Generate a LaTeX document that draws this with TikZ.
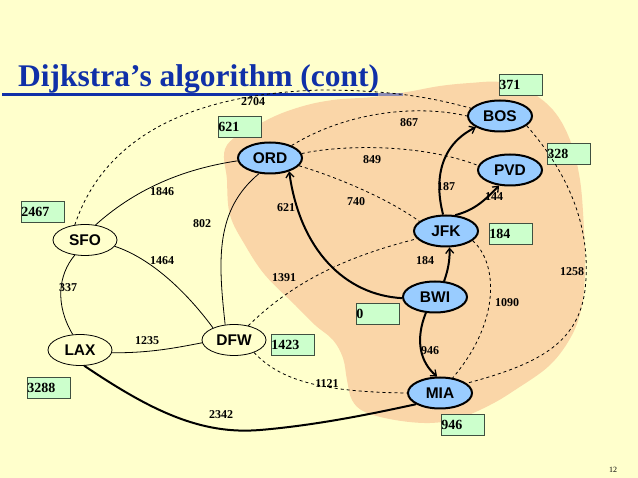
\documentclass[tikz,border=0pt]{standalone}
\usepackage{fontspec}
\setmainfont{Liberation Serif}
\newfontfamily\cityfont{Liberation Sans}
\usetikzlibrary{shapes.geometric,arrows.meta}

\definecolor{bgyellow}{RGB}{255,255,204}
\definecolor{blobc}{RGB}{250,214,168}
\definecolor{cityblue}{RGB}{153,204,255}
\definecolor{distgreen}{RGB}{204,255,204}
\definecolor{boxedge}{RGB}{64,80,64}
\definecolor{titleblue}{RGB}{16,48,168}
\definecolor{linegray}{RGB}{140,140,180}

\begin{document}
\begin{tikzpicture}[x=1pt,y=-1pt,
  city/.style={ellipse, draw=black, inner sep=0pt, minimum width=64pt, minimum height=31pt, font=\cityfont\bfseries\fontsize{15.5}{16}\selectfont},
  donecity/.style={city, fill=cityblue, line width=2pt},
  plaincity/.style={city, fill=bgyellow, line width=0.8pt},
  dist/.style={anchor=north west, draw=boxedge, fill=distgreen, line width=0.8pt, minimum width=43pt, text width=43pt, minimum height=21pt, inner xsep=0pt, inner ysep=0pt, align=left, font=\bfseries\fontsize{14}{14}\selectfont},
  wt/.style={font=\bfseries\fontsize{12}{12}\selectfont, inner sep=0pt},
  road/.style={line width=0.8pt},
  treeedge/.style={line width=2pt},
  arrowed/.style={treeedge, -{Straight Barb[length=5pt,width=8pt,line width=1.3pt]}},
  cand/.style={line width=0.8pt, dash pattern=on 3pt off 3pt}
]
\useasboundingbox (0,0) rectangle (638,478);
\fill[bgyellow] (0,0) rectangle (638,478);

% shaded region
\fill[blobc] plot[smooth cycle, tension=0.6] coordinates {
 (227,145) (267,120) (300,107) (333,100) (373,97) (407,92) (440,86) (470,83)
 (500,82) (527,90) (553,110) (570,140) (580,180) (584,230) (585,270) (582,305)
 (572,335) (550,365) (515,390) (490,405) (460,418) (430,423) (395,420) (365,412)
 (352,400) (347,380) (343,358) (333,340) (315,325) (295,305) (265,275) (245,245)
 (230,215) (227,180)};

% title
\draw[titleblue, line width=2.5pt] (2,94.5) -- (378,94.5);
\draw[linegray, line width=2.5pt] (378,94.5) -- (403,94.5);
\node[anchor=base west, text=titleblue, font=\bfseries\fontsize{31.5}{32}\selectfont, inner sep=0pt] (title) at (18,87) {Dijkstra’s algorithm (cont)};

% cities
\node[plaincity] (sfo) at (85,240) {SFO};
\node[plaincity] (lax) at (80,350) {LAX};
\node[plaincity] (dfw) at (234,340) {DFW};
\node[donecity] (ord) at (270,158) {ORD};
\node[donecity] (bos) at (500,116) {BOS};
\node[donecity] (pvd) at (510,170) {PVD};
\node[donecity] (jfk) at (446,231) {JFK};
\node[donecity] (bwi) at (435,297) {BWI};
\node[donecity] (mia) at (440,393) {MIA};

% distance boxes
\node[dist] (dbos) at (499,74) {371};
\node[dist] (dord) at (218,116) {621};
\node[dist] (dsfo) at (21,201) {2467};
\node[dist] (dpvd) at (547,143) {328};
\node[dist] (djfk) at (489,223) {184};
\node[dist] (dbwi) at (356,303) {0};
\node[dist] (ddfw) at (271,334) {1423};
\node[dist] (dlax) at (27,377) {3288};
\node[dist] (dmia) at (441,414) {946};

% thin solid roads
\draw[road] (sfo.55) .. controls (140,185) and (190,168) .. (ord.185);
\draw[road] (sfo.-12) .. controls (150,258) and (185,290) .. (dfw.150);
\draw[road] (sfo.236) .. controls (58,275) and (55,305) .. (lax.115);
\draw[road] (lax.-5) .. controls (150,353) and (175,348) .. (dfw.185);
\draw[road] (dfw.120) .. controls (218,260) and (215,210) .. (ord.235);

% thick tree edges
\draw[treeedge] (lax.-75) .. controls (150,410) and (200,435) .. (260,430) .. controls (320,425) and (380,412) .. (mia.205);
\draw[arrowed] (bwi.182) .. controls (345,295) and (300,250) .. (ord.-35);
\draw[arrowed] (bwi.60) .. controls (448,270) and (450,260) .. (jfk.-78);
\draw[arrowed] (bwi.240) .. controls (415,340) and (420,362) .. (mia.100);
\draw[arrowed] (jfk.100) .. controls (434,180) and (440,145) .. (bos.205);
\draw[arrowed] (jfk.60) .. controls (475,210) and (485,200) .. (pvd.235);

% dashed candidate edges
\draw[cand] (sfo.124) .. controls (100,150) and (170,95) .. (320,90) .. controls (400,90) and (440,100) .. (bos.165);
\draw[cand] (ord.30) .. controls (350,110) and (420,105) .. (bos.180);
\draw[cand] (ord.8) .. controls (340,145) and (420,143) .. (pvd.172);
\draw[cand] (ord.-15) .. controls (340,178) and (390,200) .. (jfk.160);
\draw[cand] (dfw.45) .. controls (290,285) and (340,258) .. (jfk.195);
\draw[cand] (dfw.-32) .. controls (280,380) and (320,392) .. (mia.180);
\draw[cand] (jfk.-20) .. controls (497,262) and (502,320) .. (mia.50);
\draw[cand] (bos.-20) .. controls (570,175) and (592,230) .. (585,290) .. controls (578,345) and (535,365) .. (mia.20);

% edge weights
\node[wt] (w2704) at (253,102) {2704};
\node[wt] (w867) at (409,123) {867};
\node[wt] (w849) at (372,160) {849};
\node[wt] (w740) at (356,202) {740};
\node[wt] (w187) at (446,187) {187};
\node[wt] (w144) at (494,197) {144};
\node[wt] (w184) at (425,261) {184};
\node[wt] (w1258) at (572,272) {1258};
\node[wt] (w1090) at (507,303) {1090};
\node[wt] (w946) at (430,351) {946};
\node[wt] (w1121) at (327,384) {1121};
\node[wt] (w1846) at (162,192) {1846};
\node[wt] (w621) at (286,208) {621};
\node[wt] (w802) at (202,224) {802};
\node[wt] (w1464) at (162,261) {1464};
\node[wt] (w1391) at (284,278) {1391};
\node[wt] (w337) at (68,288) {337};
\node[wt] (w1235) at (147,341) {1235};
\node[wt] (w2342) at (221,415) {2342};

\node[font=\fontsize{8}{8}\selectfont, inner sep=0pt] (page) at (613,470) {12};
\end{tikzpicture}
\end{document}
